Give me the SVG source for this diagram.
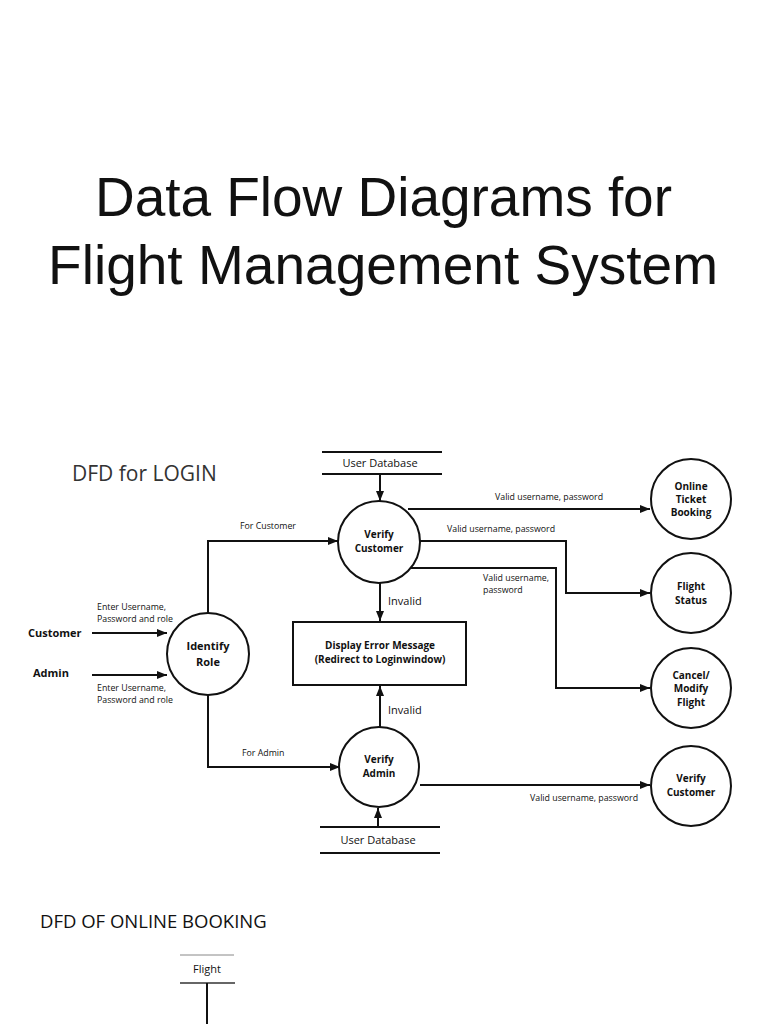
<svg xmlns="http://www.w3.org/2000/svg" width="768" height="1024" viewBox="0 0 768 1024">
<style>
text{font-family:"Open Sans","Liberation Sans",sans-serif;fill:#111}
.c{fill:#fff;stroke:#111;stroke-width:2}
.l{fill:none;stroke:#111;stroke-width:2}
.n{font-size:11px;font-weight:bold;text-anchor:middle}
.s{font-size:8.8px}
</style>
<defs><marker id="a" viewBox="0 0 10 10" refX="10" refY="5" markerWidth="5" markerHeight="5" orient="auto"><path d="M0,1L10,5L0,9z" fill="#111"/></marker></defs>
<rect width="768" height="1024" fill="#fff"/>
<g id="title"><text x="95" y="216" textLength="577" style="font-family:'Liberation Sans',sans-serif;font-size:55px">Data Flow Diagrams for</text><text x="48" y="284" textLength="670" style="font-family:'Liberation Sans',sans-serif;font-size:55px">Flight Management System</text></g>
<text x="72" y="481" style="font-size:21px;fill:#333">DFD for LOGIN</text>
<g id="connectors" class="l" marker-end="url(#a)">
<path d="M380,474V501"/><path d="M380,583V621"/><path d="M380,727V686"/><path d="M378,827V808"/>
<path d="M208,613V541H338"/><path d="M208,695V767H340"/>
<path d="M92,633H167"/><path d="M92,675H167"/>
<path d="M408,509H650"/><path d="M420,541H566V593H650"/><path d="M410,568H556V688H650"/><path d="M420,785H650"/>
</g>
<g id="labels" class="s">
<text x="240" y="529">For Customer</text><text x="242" y="756">For Admin</text>
<text x="97" y="610">Enter Username,</text><text x="97" y="622">Password and role</text>
<text x="97" y="691">Enter Username,</text><text x="97" y="703">Password and role</text>
<text x="495" y="500">Valid username, password</text><text x="447" y="532">Valid username, password</text>
<text x="483" y="581">Valid username,</text><text x="483" y="593">password</text>
<text x="530" y="801">Valid username, password</text>
<text x="388" y="605" style="font-size:11px">Invalid</text><text x="388" y="714" style="font-size:11px">Invalid</text>
</g>
<text x="28" y="637" style="font-size:11px;font-weight:bold">Customer</text>
<text x="33" y="677" style="font-size:11px;font-weight:bold">Admin</text>
<g id="db1"><path class="l" d="M322,452H442M322,474H442"/><text x="380" y="467" style="font-size:11px" text-anchor="middle">User Database</text></g>
<g id="db2"><path class="l" d="M320,827H440M320,853H440"/><text x="378" y="844" style="font-size:11px" text-anchor="middle">User Database</text></g>
<g id="identify"><circle class="c" cx="208" cy="654" r="41"/><text class="n" x="208" y="650">Identify</text><text class="n" x="208" y="666">Role</text></g>
<g id="vcust"><circle class="c" cx="379" cy="542" r="41"/><text class="n" x="379" y="538" style="font-size:10px">Verify</text><text class="n" x="379" y="552" style="font-size:10px">Customer</text></g>
<g id="vadmin"><circle class="c" cx="379" cy="767" r="40"/><text class="n" x="379" y="763" style="font-size:10px">Verify</text><text class="n" x="379" y="777" style="font-size:10px">Admin</text></g>
<g id="err"><rect class="c" x="293" y="622" width="173" height="63"/><text class="n" x="380" y="649" style="font-size:10px">Display Error Message</text><text class="n" x="380" y="663" style="font-size:10px">(Redirect to Loginwindow)</text></g>
<g id="otb"><circle class="c" cx="691" cy="499" r="40"/><text class="n" x="691" y="490" style="font-size:10px">Online</text><text class="n" x="691" y="503" style="font-size:10px">Ticket</text><text class="n" x="691" y="516" style="font-size:10px">Booking</text></g>
<g id="fs"><circle class="c" cx="691" cy="593" r="40"/><text class="n" x="691" y="590" style="font-size:10px">Flight</text><text class="n" x="691" y="604" style="font-size:10px">Status</text></g>
<g id="cm"><circle class="c" cx="691" cy="688" r="40"/><text class="n" x="691" y="679" style="font-size:10px">Cancel/</text><text class="n" x="691" y="692" style="font-size:10px">Modify</text><text class="n" x="691" y="706" style="font-size:10px">Flight</text></g>
<g id="vc2"><circle class="c" cx="691" cy="786" r="40"/><text class="n" x="691" y="782" style="font-size:10px">Verify</text><text class="n" x="691" y="796" style="font-size:10px">Customer</text></g>
<text x="40" y="928" style="font-size:18.5px">DFD OF ONLINE BOOKING</text>
<g id="flight"><path d="M180,955H234" stroke="#888" stroke-width="1"/><path d="M180,983H235" stroke="#333" stroke-width="1.5"/><text x="207" y="973" style="font-size:11px" text-anchor="middle">Flight</text><path class="l" d="M207,983V1024"/></g>
</svg>
